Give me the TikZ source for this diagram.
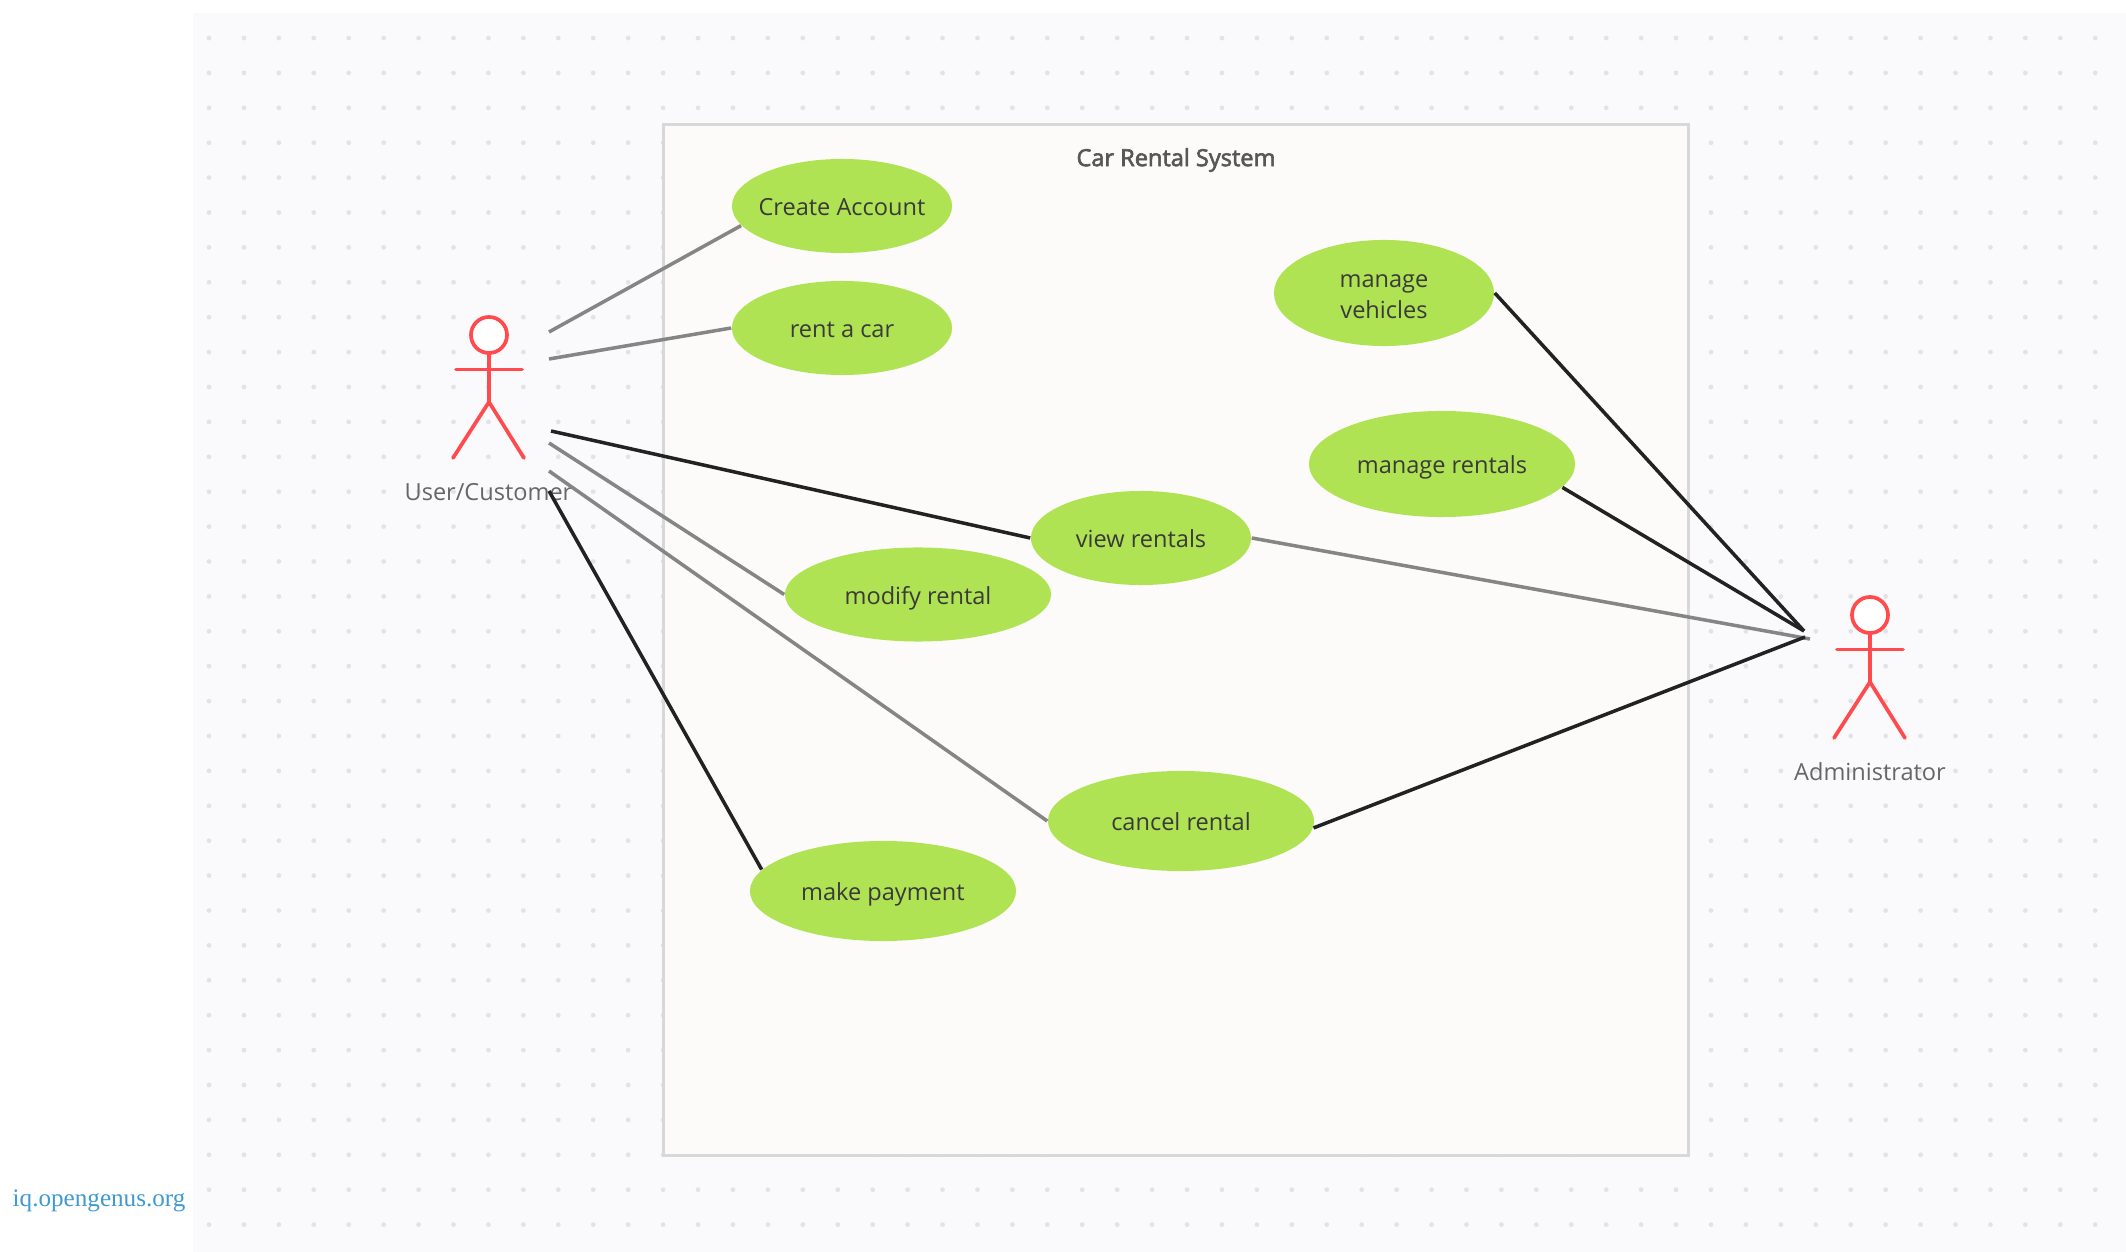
\documentclass[tikz,border=0pt]{standalone}
\usepackage{fontspec}
\setmainfont{Open Sans}
\newfontfamily\markfont{Liberation Serif}
\newfontfamily\titlefont[FakeBold=2.5]{Open Sans}
\usetikzlibrary{shapes.geometric}
\definecolor{bgpane}{HTML}{FAFAFC}
\definecolor{gdot}{HTML}{E3E3E6}
\definecolor{sysfill}{HTML}{FCFBFA}
\definecolor{sysline}{HTML}{D8D8D8}
\definecolor{ucgreen}{HTML}{B0E353}
\definecolor{actred}{HTML}{FF4B4E}
\definecolor{lgray}{HTML}{858585}
\definecolor{ldark}{HTML}{222222}
\definecolor{txtc}{HTML}{3A3A3A}
\definecolor{lblc}{HTML}{666666}
\definecolor{linkc}{HTML}{3E9AD0}
\tikzset{
  x=0.01cm,y=-0.01cm,
  usecase/.style={ellipse,fill=ucgreen,inner sep=-10pt,text=txtc,font=\fontsize{6.7}{8.8}\selectfont,align=center},
  oneline/.style={usecase,text height=6.5pt,text depth=1pt},
  smallcase/.style={oneline,minimum width=2.2cm,minimum height=0.94cm},
  widecase/.style={oneline,minimum width=2.66cm,minimum height=1cm},
  tallcase/.style={usecase,minimum width=2.2cm,minimum height=1.06cm},
  figure/.style={actred,line width=1.05pt,line cap=round},
  actorhead/.style={circle,draw=actred,line width=1.05pt,fill=white,minimum size=0.36cm,inner sep=0pt},
  actorlabel/.style={text=lblc,font=\fontsize{6.7}{8}\selectfont,inner sep=0pt},
  lightlink/.style={lgray,line width=1pt},
  darklink/.style={ldark,line width=1pt},
}
\begin{document}
\begin{tikzpicture}
\useasboundingbox (0,0) rectangle (2126,1252);
\fill[white] (0,0) rectangle (2126,1252);
\fill[bgpane] (193,13) rectangle (2126,1252);
\foreach \i in {0,...,54}{
  \foreach \j in {0,...,34}{
    \fill[gdot] ({209+34.93*\i},{38+34.9*\j}) circle[radius=2.4];
  }
}
\node[draw=sysline,fill=sysfill,line width=1pt,minimum width=10.24cm,minimum height=10.3cm,inner sep=0pt] (sys) at (1176,640) {};
\node[text=txtc!85,font=\titlefont\fontsize{6.7}{8}\selectfont,inner sep=0pt] (title) at (1176,160) {Car Rental System};

\node[smallcase] (create) at (842,206) {Create Account};
\node[smallcase] (rent) at (842,328) {rent a car};
\node[tallcase] (vehicles) at (1384,293) {\rule{0pt}{5.5pt}manage\\vehicles};
\node[widecase,minimum height=1.06cm] (rentals) at (1442,464) {manage rentals};
\node[smallcase] (view) at (1141,538) {view rentals};
\node[widecase,minimum height=0.94cm] (modify) at (918,594.5) {modify rental};
\node[widecase] (cancel) at (1181,821) {cancel rental};
\node[widecase] (pay) at (883,891) {make payment};

% actors
\node[actorhead] (uhead) at (489,335) {};
\coordinate (uhip) at (489,402);
\coordinate (ularm) at (456,369.5);
\coordinate (urarm) at (522,369.5);
\coordinate (ulfoot) at (453,458);
\coordinate (urfoot) at (524,458);
\draw[figure] (uhead) -- (uhip);
\draw[figure] (ularm) -- (urarm);
\draw[figure] (ulfoot) -- (uhip) -- (urfoot);
\node[actorlabel] (ulabel) at (488.5,492) {User/Customer};

\node[actorhead] (ahead) at (1870,615) {};
\coordinate (ahip) at (1870,682);
\coordinate (alarm) at (1837,649.5);
\coordinate (ararm) at (1903,649.5);
\coordinate (alfoot) at (1834,738);
\coordinate (arfoot) at (1905,738);
\draw[figure] (ahead) -- (ahip);
\draw[figure] (alarm) -- (ararm);
\draw[figure] (alfoot) -- (ahip) -- (arfoot);
\node[actorlabel] (alabel) at (1870,772) {Administrator};

% free ends
\coordinate (u1) at (549,332);
\coordinate (u2) at (549,359);
\coordinate (u3) at (551,431);
\coordinate (u4) at (549,443);
\coordinate (u5) at (549,471);
\coordinate (u6) at (549,491);
\coordinate (a1) at (1804,631);
\coordinate (a2) at (1810,639);
\coordinate (a3) at (1805,637);

\draw[lightlink] (u1) -- (create.191);
\draw[lightlink] (u2) -- (rent.west);
\draw[darklink] (u3) -- (view.west);
\draw[lightlink] (u4) -- (modify.west);
\draw[lightlink] (u5) -- (cancel.west);
\draw[darklink] (u6) -- (pay.170);
\draw[darklink] (vehicles.east) -- (a1);
\draw[darklink] (rentals.-11) -- (a1);
\draw[lightlink] (view.east) -- (a2);
\draw[darklink] (cancel.-3) -- (a3);

\node[text=linkc,font=\markfont\fontsize{7.15}{9}\selectfont,inner sep=0pt,anchor=west] (mark) at (12,1201) {iq.opengenus.org};
\end{tikzpicture}
\end{document}
